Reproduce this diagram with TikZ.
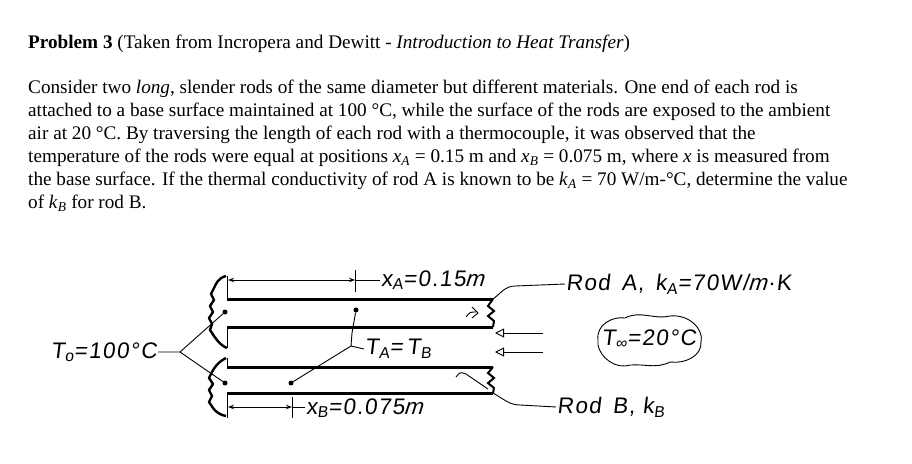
\documentclass[tikz,border=0pt]{standalone}
\usepackage{fontspec}
\setmainfont{Liberation Serif}
\newfontfamily\hand{Liberation Sans}[FakeSlant=0.12,LetterSpace=6]
\usetikzlibrary{arrows.meta}
\newcommand{\vi}[2]{\textit{#1}\textsubscript{\textit{#2}}}
\begin{document}
\begin{tikzpicture}[x=1pt,y=-1pt,
  body/.style={anchor=base west,inner sep=0,font=\fontsize{19.2}{21}\selectfont},
  hw/.style={inner sep=1pt,font=\hand\fontsize{22.5}{23}\selectfont},
  rodline/.style={line width=3pt},
  thin/.style={line width=0.9pt},
  dotc/.style={circle,fill,inner sep=0,minimum size=5pt}]
\useasboundingbox (0,0) rectangle (912,463);
% text
\node[body] (t0) at (28,48) {\textbf{Problem 3} (Taken from Incropera and Dewitt - \textit{Introduction to Heat Transfer})};
\node[body] (t1) at (28,93) {Consider two \textit{long}, slender rods of the same diameter but different materials. One end of each rod is};
\node[body] (t2) at (28,116) {attached to a base surface maintained at 100 °C, while the surface of the rods are exposed to the ambient};
\node[body] (t3) at (28,139) {air at 20 °C. By traversing the length of each rod with a thermocouple, it was observed that the};
\node[body] (t4) at (28,162) {temperature of the rods were equal at positions \vi{x}{A} = 0.15 m and \vi{x}{B} = 0.075 m, where \textit{x} is measured from};
\node[body] (t5) at (28,185) {the base surface. If the thermal conductivity of rod A is known to be \vi{k}{A} = 70 W/m-°C, determine the value};
\node[body] (t6) at (28,208) {of \vi{k}{B} for rod B.};
% wall
\draw[line width=2.4pt,line join=round] (226,276) .. controls (218,278) and (216,284) .. (214,288) -- (211,294) -- (214,300) -- (210,306) -- (213,312) -- (209,318) -- (212,324) -- (210,330) -- (214,336) .. controls (218,342) and (222,346) .. (227,348);
\draw[line width=2.4pt,line join=round] (226,358) .. controls (218,362) and (214,368) .. (212,372) -- (209,378) -- (213,384) -- (209,390) -- (212,396) -- (209,402) -- (213,408) .. controls (216,412) and (220,415) .. (226,416);
\draw[thin] (227,276) -- (227,300);
\draw[thin] (227,327) -- (227,348);
\draw[thin] (227,358) -- (227,367);
\draw[thin] (227,393) -- (227,418);
% rods
\coordinate (aL1) at (227,299); \coordinate (aR1) at (493,299);
\coordinate (aL2) at (227,327); \coordinate (aR2) at (493,327);
\coordinate (bL1) at (227,367); \coordinate (bR1) at (493,367);
\coordinate (bL2) at (227,393); \coordinate (bR2) at (493,393);
\draw[rodline] (aL1) -- (aR1); \draw[rodline] (aL2) -- (aR2);
\draw[rodline] (bL1) -- (bR1); \draw[rodline] (bL2) -- (bR2);
\draw[line width=2pt] (aR1) -- (488,306) -- (494,311) -- (488,316) -- (494,321) -- (aR2);
\draw[line width=2pt] (bR1) -- (488,373) -- (494,378) -- (488,383) -- (494,388) -- (bR2);
\draw[thin] (472,307) -- (478,313) -- (472,318) (466,317) .. controls (470,312) .. (476,312);
\draw[thin] (456,377) .. controls (460,372) .. (466,374) -- (488,389);
% dimensions
\coordinate (xa) at (355,280); \coordinate (xb) at (292,407);
\draw[thin,{Stealth[open,length=6pt]}-{Stealth[open,length=6pt]}] (228,280) -- (xa);
\draw[thin] (355,270) -- (355,292) (355,280) -- (380,280);
\node[hw,anchor=west] (xalab) at (380,280) {x\textsubscript{A}=0.15\textit{m}};
\draw[thin,{Stealth[open,length=6pt]}-{Stealth[open,length=6pt]}] (228,407) -- (xb);
\draw[thin] (292,397) -- (292,418) (292,407) -- (305,407);
\node[hw,anchor=west] (xblab) at (305,408) {x\textsubscript{B}=0.075\textit{m}};
% thermocouple T0
\node[hw,anchor=east] (T0) at (158,352) {T\textsubscript{o}=100°C};
\coordinate (j0) at (180,352);
\node[dotc] (d1) at (225,312) {}; \node[dotc] (d2) at (225,383) {};
\draw[thin] (T0.east) -- (j0) -- (d1); \draw[thin] (j0) -- (d2);
% thermocouple TA=TB
\node[dotc] (d3) at (356,310) {}; \node[dotc] (d4) at (291,383) {};
\coordinate (j1) at (351,346);
\node[hw,anchor=west] (TAB) at (364,349) {T\textsubscript{A}=\,T\textsubscript{B}};
\draw[thin] (d3) -- (352,333) -- (j1) -- (TAB.west); \draw[thin] (j1) -- (d4);
% right side
\node[hw,anchor=west] (rA) at (565,284) {Rod\, A,\, k\textsubscript{A}=70W/\textit{m}·K};
\draw[thin] (aR1) .. controls (500,294) and (505,286) .. (515,286) -- (rA.west);
\node[hw,anchor=west] (rB) at (556,407) {Rod\, B, k\textsubscript{B}};
\draw[thin] (bR2) .. controls (505,400) and (510,405) .. (520,405) -- (rB.west);
\node[hw] (amb) at (649,339) {T\textsubscript{∞}=20°C};
\draw[thin] (598,340) .. controls (596,325) and (612,316) .. (625,318) .. controls (640,310) and (655,320) .. (670,316) .. controls (690,314) and (704,330) .. (701,342) .. controls (702,356) and (685,364) .. (670,362) .. controls (655,370) and (640,362) .. (625,366) .. controls (610,367) and (596,352) .. (598,340);
\coordinate (ar1) at (495,333); \coordinate (ar2) at (495,352);
\draw[thin,-{Triangle[open,length=9pt,width=9pt]}] (543,333) -- (ar1);
\draw[thin,-{Triangle[open,length=9pt,width=9pt]}] (543,352) -- (ar2);
\end{tikzpicture}
\end{document}
